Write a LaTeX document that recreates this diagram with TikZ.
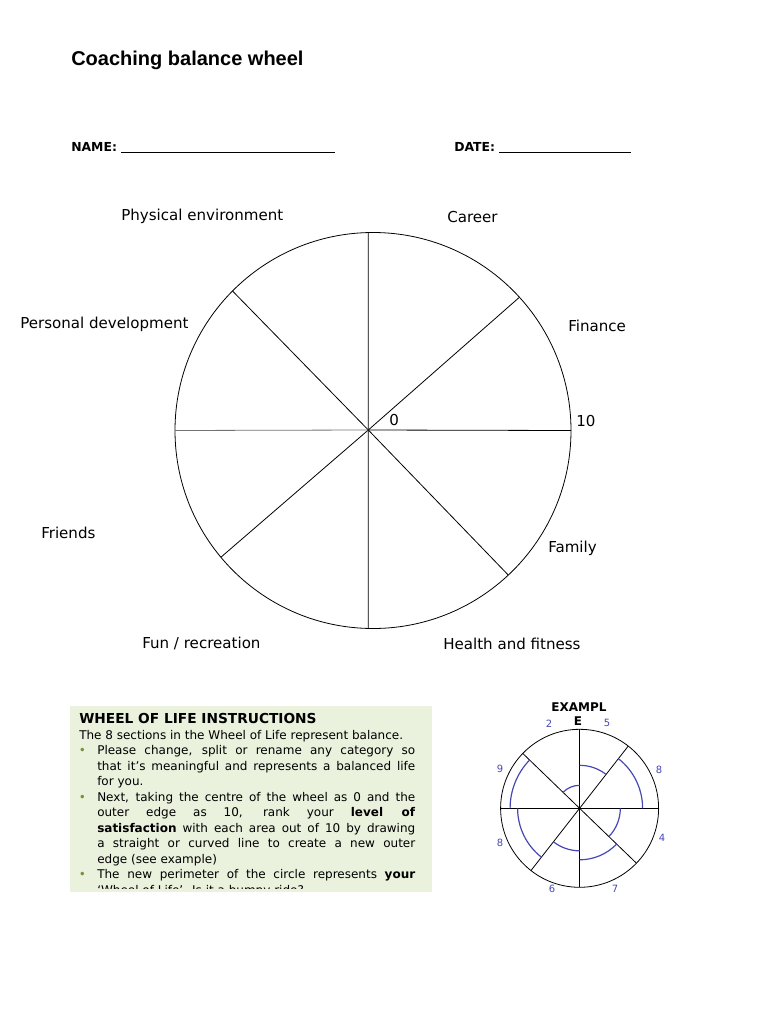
\documentclass[tikz,border=0pt]{standalone}
\usepackage{fontspec}
\setmainfont{DejaVu Sans}
\newfontfamily\titulofont{Liberation Sans}
\usepackage{enumitem}
\definecolor{cajaverde}{RGB}{234,241,221}
\definecolor{vineta}{RGB}{119,147,60}
\definecolor{azul}{RGB}{72,72,180}

\begin{document}
\begin{tikzpicture}[x=0.75pt, y=-0.75pt,
    etiqueta/.style={anchor=base west, inner sep=0pt, font=\fontsize{11.3}{13}\selectfont},
    campo/.style={anchor=base west, inner sep=0pt, font=\bfseries\fontsize{9.3}{11}\selectfont},
    radio/.style={line width=0.6pt},
    puntaje/.style={azul, line width=0.9pt},
    numero/.style={azul, inner sep=0pt, font=\fontsize{7.5}{9}\selectfont},
    ejemplo/.style={inner sep=0pt, font=\bfseries\fontsize{9}{10}\selectfont}
  ]
  \useasboundingbox (0,0) rectangle (768,1024);

  \node[anchor=base west, inner sep=0pt, font=\titulofont\bfseries\fontsize{15}{18}\selectfont]
    (titulo) at (71,65) {Coaching balance wheel};
  \node[campo] (nombre) at (71,151) {NAME: \rule[-1.5pt]{160pt}{0.5pt}};
  \node[campo] (fecha) at (454,151) {DATE: \rule[-1.5pt]{99pt}{0.5pt}};

  % rueda principal
  \coordinate (c) at (373,430.5);
  \begin{scope}[shift={(c)}, yscale=-1]
    \coordinate (eje) at (-4.7,0.5);
    \draw[radio] (0,0) circle[radius=198];
    \foreach \a in {0,42.3,91.4,135.2,219.8,268.6,313.1}
      \draw[radio] (eje) -- (\a:198);
    \draw[line width=0.6pt, black!55] (eje) -- (180:198);
  \end{scope}

  \node[etiqueta] (fisico)   at (121,220) {Physical environment};
  \node[etiqueta] (carrera)  at (447,222) {Career};
  \node[etiqueta] (personal) at (20,328)  {Personal development};
  \node[etiqueta] (finanzas) at (568,331) {Finance};
  \node[etiqueta] (cero)     at (389,425) {0};
  \node[etiqueta] (diez)     at (576,426) {10};
  \node[etiqueta] (amigos)   at (41,538)  {Friends};
  \node[etiqueta] (familia)  at (548,552) {Family};
  \node[etiqueta] (ocio)     at (142,648) {Fun / recreation};
  \node[etiqueta] (salud)    at (443,649) {Health and fitness};

  % instrucciones
  \fill[cajaverde] (70,706) rectangle (432,891.5);
  \begin{scope}
    \clip (70,706) rectangle (432,888);
    \node[anchor=north west, inner sep=0pt, text width=252pt, align=justify,
          font=\fontsize{9}{11.6}\selectfont] (instr) at (79,713.5) {%
      {\bfseries\fontsize{10.3}{11.6}\selectfont WHEEL OF LIFE INSTRUCTIONS\par}
      The 8 sections in the Wheel of Life represent balance.
      \begin{itemize}[leftmargin=13.5pt, labelsep=8.5pt, topsep=0pt, itemsep=0pt,
                      parsep=0pt, partopsep=0pt, label={\textcolor{vineta}{\textbullet}}]
        \item Please change, split or rename any category so\linebreak
          that it’s meaningful and represents a balanced life\linebreak for you.
        \item Next, taking the centre of the wheel as 0 and the\linebreak
          outer edge as 10, rank your \textbf{level of}\linebreak
          \textbf{satisfaction} with each area out of 10 by drawing\linebreak
          a straight or curved line to create a new outer\linebreak
          edge (see example)
        \item The new perimeter of the circle represents \textbf{your}\linebreak
          ‘Wheel of Life’. Is it a bumpy ride?
      \end{itemize}};
  \end{scope}

  % rueda de ejemplo
  \coordinate (e) at (579.6,808.3);
  \begin{scope}[shift={(e)}, yscale=-1]
    \draw[radio] (0,0) circle[radius=79];
    \foreach \a in {0,52,90,136}
      \draw[radio] (\a:79) -- (\a+180:79);
    \foreach \ini/\fin/\r in {52/90/43, 90/136/23, 136/180/69.5, 180/232/62,
                              232/270/42.5, 270/316/51.5, 316/360/40.7, 0/52/63}
      \draw[puntaje] (\ini:\r) arc[start angle=\ini, end angle=\fin, radius=\r];
  \end{scope}

  \node[ejemplo] (ej1) at (579,707) {EXAMPL};
  \node[ejemplo] (ej2) at (578,721) {E};
  \node[numero] (n2) at (549,724) {2};
  \node[numero] (n5) at (607,723) {5};
  \node[numero] (n9) at (500,769) {9};
  \node[numero] (n8a) at (659,770) {8};
  \node[numero] (n8b) at (500,843) {8};
  \node[numero] (n4) at (662,838) {4};
  \node[numero] (n6) at (552,889) {6};
  \node[numero] (n7) at (615,889) {7};
\end{tikzpicture}
\end{document}
